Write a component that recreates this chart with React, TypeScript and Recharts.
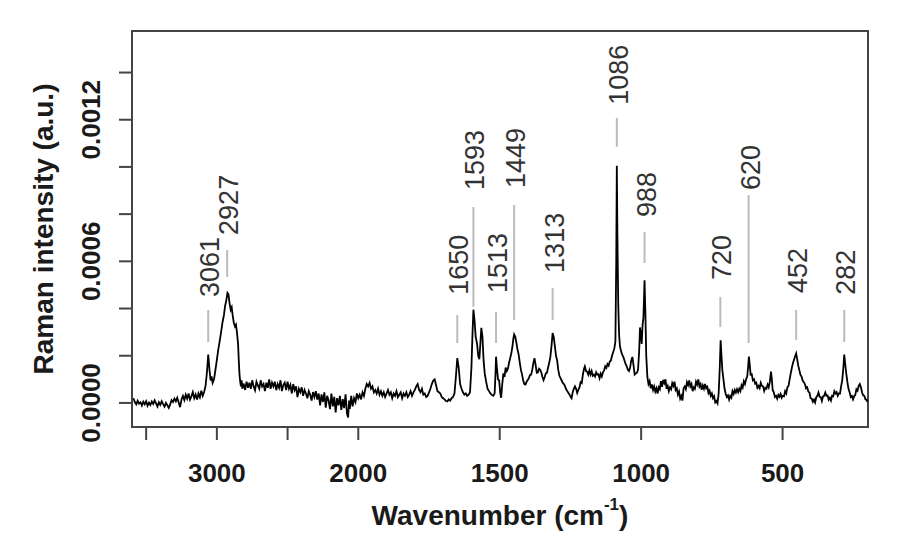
import React from 'react';
import { ComposedChart, Line, Scatter, XAxis, YAxis, ReferenceArea, ReferenceLine } from 'recharts';

// Raman spectrum, C-H stretching region (compressed x scale above 2000 cm-1)
const spectrumHigh: [number, number][] = [
  [3590, 20e-6], [3580, 4e-6], [3570, -6e-6], [3560, 9e-6], [3550, -3e-6], [3540, 3e-6], [3530, -11e-6], [3520, 5e-6],
  [3510, -6e-6], [3500, 7e-6], [3490, -12e-6], [3480, 1e-6], [3470, -9e-6], [3460, 6e-6], [3450, -4e-6], [3440, 11e-6],
  [3430, -2e-6], [3420, -15e-6], [3410, 3e-6], [3400, -8e-6], [3390, 7e-6], [3380, -5e-6], [3370, -16e-6], [3360, 0],
  [3350, -10e-6], [3340, -21e-6], [3330, -6e-6], [3320, 12e-6], [3310, 4e-6], [3300, 18e-6], [3290, 7e-6], [3280, 22e-6],
  [3270, 2e-6], [3260, -18e-6], [3250, 15e-6], [3240, 30e-6], [3230, 12e-6], [3220, 35e-6], [3210, 18e-6], [3200, 40e-6],
  [3190, 14e-6], [3180, 28e-6], [3170, 46e-6], [3160, 20e-6], [3150, 36e-6], [3140, 14e-6], [3130, 40e-6], [3120, 24e-6],
  [3110, 52e-6], [3100, 30e-6], [3090, 46e-6], [3080, 72e-6], [3070, 130e-6], [3061, 205e-6], [3052, 140e-6], [3044, 95e-6],
  [3037, 112e-6], [3030, 85e-6], [3020, 100e-6], [3010, 140e-6], [3000, 182e-6], [2990, 226e-6], [2980, 262e-6], [2970, 300e-6],
  [2960, 342e-6], [2950, 372e-6], [2942, 410e-6], [2934, 432e-6], [2925, 466e-6], [2918, 460e-6], [2910, 422e-6], [2902, 395e-6],
  [2895, 405e-6], [2888, 370e-6], [2880, 340e-6], [2872, 324e-6], [2865, 332e-6], [2858, 300e-6], [2850, 250e-6], [2845, 180e-6],
  [2840, 122e-6], [2835, 90e-6], [2830, 70e-6], [2825, 96e-6], [2820, 60e-6], [2810, 82e-6], [2800, 55e-6], [2790, 90e-6],
  [2780, 64e-6], [2770, 86e-6], [2760, 60e-6], [2750, 96e-6], [2740, 70e-6], [2730, 54e-6], [2720, 90e-6], [2710, 74e-6],
  [2700, 60e-6], [2690, 96e-6], [2680, 70e-6], [2670, 80e-6], [2660, 50e-6], [2650, 86e-6], [2640, 64e-6], [2630, 100e-6],
  [2620, 60e-6], [2610, 86e-6], [2600, 70e-6], [2590, 90e-6], [2580, 54e-6], [2570, 80e-6], [2560, 64e-6], [2550, 96e-6],
  [2540, 50e-6], [2530, 76e-6], [2520, 86e-6], [2510, 54e-6], [2500, 90e-6], [2490, 60e-6], [2480, 76e-6], [2470, 40e-6],
  [2460, 80e-6], [2450, 54e-6], [2440, 70e-6], [2430, 25e-6], [2420, 60e-6], [2410, 45e-6], [2400, 66e-6], [2390, 30e-6],
  [2380, 55e-6], [2370, 40e-6], [2360, 20e-6], [2350, 50e-6], [2340, 35e-6], [2330, 10e-6], [2320, 46e-6], [2310, 25e-6],
  [2300, 50e-6], [2290, 14e-6], [2280, 40e-6], [2270, -10e-6], [2260, 36e-6], [2250, 4e-6], [2240, 45e-6], [2230, -20e-6],
  [2220, 30e-6], [2210, 10e-6], [2200, -26e-6], [2190, 40e-6], [2180, -15e-6], [2170, 26e-6], [2160, -40e-6], [2150, 20e-6],
  [2140, -10e-6], [2130, 30e-6], [2120, -30e-6], [2110, 16e-6], [2100, -22e-6], [2090, 36e-6], [2080, -45e-6], [2072, -62e-6],
  [2065, 10e-6], [2060, -25e-6], [2050, 30e-6], [2040, -15e-6], [2030, 20e-6], [2020, 4e-6], [2010, 40e-6],
];

// Fingerprint region (2000 - 200 cm-1)
const spectrumLow: [number, number][] = [
  [2000, 20e-6], [1995, 35e-6], [1990, 15e-6], [1985, 45e-6], [1980, 30e-6], [1975, 60e-6], [1970, 80e-6], [1965, 70e-6],
  [1960, 85e-6], [1955, 60e-6], [1950, 70e-6], [1945, 45e-6], [1940, 55e-6], [1935, 40e-6], [1930, 60e-6], [1925, 35e-6],
  [1920, 50e-6], [1915, 30e-6], [1910, 45e-6], [1905, 25e-6], [1900, 40e-6], [1895, 55e-6], [1890, 35e-6], [1885, 45e-6],
  [1880, 20e-6], [1875, 40e-6], [1870, 30e-6], [1865, 50e-6], [1860, 25e-6], [1855, 35e-6], [1850, 45e-6], [1845, 20e-6],
  [1840, 40e-6], [1835, 30e-6], [1830, 45e-6], [1825, 25e-6], [1820, 35e-6], [1815, 50e-6], [1810, 30e-6], [1805, 45e-6],
  [1800, 55e-6], [1795, 70e-6], [1790, 80e-6], [1785, 55e-6], [1780, 45e-6], [1775, 60e-6], [1770, 35e-6], [1765, 40e-6],
  [1760, 25e-6], [1755, 30e-6], [1750, 45e-6], [1745, 60e-6], [1740, 80e-6], [1735, 95e-6], [1730, 100e-6], [1725, 75e-6],
  [1720, 50e-6], [1715, 45e-6], [1710, 40e-6], [1705, 25e-6], [1700, 20e-6], [1695, 15e-6], [1690, 8e-6], [1685, 6e-6],
  [1680, 15e-6], [1675, 10e-6], [1670, 20e-6], [1665, 25e-6], [1660, 40e-6], [1655, 110e-6], [1650, 190e-6], [1645, 150e-6],
  [1640, 80e-6], [1635, 60e-6], [1630, 45e-6], [1625, 35e-6], [1620, 40e-6], [1615, 30e-6], [1610, 35e-6], [1605, 45e-6],
  [1600, 150e-6], [1596, 300e-6], [1593, 395e-6], [1589, 350e-6], [1585, 280e-6], [1580, 250e-6], [1576, 200e-6], [1572, 185e-6],
  [1568, 260e-6], [1565, 318e-6], [1561, 280e-6], [1557, 180e-6], [1553, 125e-6], [1548, 90e-6], [1543, 60e-6], [1538, 50e-6],
  [1533, 40e-6], [1528, 34e-6], [1523, 30e-6], [1518, 40e-6], [1515, 120e-6], [1513, 196e-6], [1510, 150e-6], [1506, 100e-6],
  [1502, 95e-6], [1498, 40e-6], [1495, 22e-6], [1491, 80e-6], [1487, 125e-6], [1483, 110e-6], [1479, 150e-6], [1475, 135e-6],
  [1471, 145e-6], [1467, 170e-6], [1463, 190e-6], [1459, 210e-6], [1455, 240e-6], [1452, 270e-6], [1449, 290e-6], [1445, 280e-6],
  [1441, 255e-6], [1437, 225e-6], [1433, 205e-6], [1429, 170e-6], [1425, 140e-6], [1421, 120e-6], [1417, 95e-6], [1413, 80e-6],
  [1409, 78e-6], [1405, 90e-6], [1401, 97e-6], [1397, 105e-6], [1393, 118e-6], [1389, 120e-6], [1385, 140e-6], [1381, 170e-6],
  [1377, 190e-6], [1373, 160e-6], [1369, 128e-6], [1365, 130e-6], [1361, 145e-6], [1357, 140e-6], [1353, 130e-6], [1349, 110e-6],
  [1345, 97e-6], [1341, 110e-6], [1337, 125e-6], [1333, 128e-6], [1329, 150e-6], [1325, 170e-6], [1321, 195e-6], [1317, 240e-6],
  [1313, 296e-6], [1309, 280e-6], [1305, 240e-6], [1301, 200e-6], [1297, 180e-6], [1293, 140e-6], [1289, 115e-6], [1285, 105e-6],
  [1281, 95e-6], [1277, 85e-6], [1273, 80e-6], [1269, 70e-6], [1265, 58e-6], [1261, 50e-6], [1257, 42e-6], [1253, 35e-6],
  [1249, 25e-6], [1246, 20e-6], [1242, 45e-6], [1238, 60e-6], [1234, 70e-6], [1230, 60e-6], [1226, 42e-6], [1222, 55e-6],
  [1218, 66e-6], [1214, 88e-6], [1210, 84e-6], [1206, 120e-6], [1202, 145e-6], [1199, 155e-6], [1195, 135e-6], [1191, 132e-6],
  [1187, 120e-6], [1183, 138e-6], [1179, 120e-6], [1175, 135e-6], [1171, 115e-6], [1167, 120e-6], [1163, 112e-6], [1159, 130e-6],
  [1155, 120e-6], [1151, 122e-6], [1147, 105e-6], [1143, 124e-6], [1139, 112e-6], [1135, 130e-6], [1131, 138e-6], [1127, 155e-6],
  [1123, 148e-6], [1119, 165e-6], [1115, 158e-6], [1111, 175e-6], [1107, 180e-6], [1103, 200e-6], [1099, 215e-6], [1095, 230e-6],
  [1091, 260e-6], [1088, 600e-6], [1086, 1005e-6], [1084, 720e-6], [1081, 420e-6], [1078, 290e-6], [1075, 240e-6], [1071, 220e-6],
  [1067, 205e-6], [1063, 195e-6], [1059, 180e-6], [1055, 165e-6], [1051, 155e-6], [1047, 140e-6], [1043, 135e-6], [1039, 150e-6],
  [1035, 180e-6], [1031, 195e-6], [1027, 160e-6], [1023, 120e-6], [1019, 125e-6], [1015, 128e-6], [1011, 140e-6], [1007, 220e-6],
  [1004, 320e-6], [1001, 290e-6], [998, 250e-6], [995, 330e-6], [992, 360e-6], [988, 520e-6], [985, 380e-6], [982, 200e-6],
  [978, 110e-6], [974, 80e-6], [970, 92e-6], [966, 62e-6], [962, 78e-6], [958, 55e-6], [954, 70e-6], [950, 48e-6],
  [946, 62e-6], [942, 40e-6], [938, 66e-6], [934, 58e-6], [930, 92e-6], [926, 68e-6], [922, 98e-6], [918, 84e-6],
  [914, 100e-6], [910, 60e-6], [906, 72e-6], [902, 50e-6], [898, 66e-6], [894, 58e-6], [890, 84e-6], [886, 72e-6],
  [882, 90e-6], [878, 55e-6], [874, 62e-6], [870, 35e-6], [866, 48e-6], [862, 18e-6], [858, 30e-6], [854, 10e-6],
  [850, 62e-6], [846, 70e-6], [842, 58e-6], [838, 88e-6], [834, 76e-6], [830, 95e-6], [826, 70e-6], [822, 80e-6],
  [818, 50e-6], [814, 66e-6], [810, 60e-6], [806, 90e-6], [802, 78e-6], [798, 100e-6], [794, 70e-6], [790, 80e-6],
  [786, 56e-6], [782, 74e-6], [778, 60e-6], [774, 80e-6], [770, 62e-6], [766, 68e-6], [762, 42e-6], [758, 52e-6],
  [754, 30e-6], [750, 40e-6], [746, 20e-6], [742, 28e-6], [738, 2e-6], [734, 8e-6], [730, -2e-6], [726, 40e-6],
  [722, 150e-6], [719, 265e-6], [716, 200e-6], [713, 140e-6], [709, 100e-6], [705, 60e-6], [701, 38e-6], [697, 25e-6],
  [693, 32e-6], [689, 14e-6], [685, 30e-6], [681, 22e-6], [677, 50e-6], [673, 38e-6], [669, 55e-6], [665, 44e-6],
  [661, 58e-6], [657, 45e-6], [653, 60e-6], [649, 50e-6], [645, 75e-6], [641, 65e-6], [637, 92e-6], [633, 80e-6],
  [629, 100e-6], [625, 112e-6], [622, 150e-6], [619, 196e-6], [616, 160e-6], [613, 120e-6], [609, 122e-6], [605, 96e-6],
  [601, 100e-6], [597, 82e-6], [593, 86e-6], [589, 64e-6], [585, 72e-6], [581, 62e-6], [577, 85e-6], [573, 72e-6],
  [569, 70e-6], [565, 50e-6], [561, 64e-6], [557, 60e-6], [553, 78e-6], [549, 66e-6], [545, 90e-6], [541, 133e-6],
  [538, 100e-6], [535, 55e-6], [531, 45e-6], [527, 25e-6], [523, 30e-6], [519, 18e-6], [515, 34e-6], [511, 26e-6],
  [507, 38e-6], [503, 22e-6], [499, 30e-6], [495, 28e-6], [491, 50e-6], [487, 40e-6], [483, 66e-6], [479, 72e-6],
  [475, 100e-6], [471, 126e-6], [467, 150e-6], [463, 170e-6], [459, 185e-6], [455, 200e-6], [452, 210e-6], [449, 190e-6],
  [445, 160e-6], [441, 140e-6], [437, 120e-6], [433, 112e-6], [429, 95e-6], [425, 88e-6], [421, 80e-6], [417, 62e-6],
  [413, 66e-6], [409, 48e-6], [405, 44e-6], [401, 20e-6], [397, 18e-6], [393, 5e-6], [389, 14e-6], [385, 2e-6],
  [381, 24e-6], [377, 30e-6], [373, 44e-6], [369, 26e-6], [365, 24e-6], [361, 8e-6], [357, 28e-6], [353, 30e-6],
  [349, 44e-6], [345, 30e-6], [341, 32e-6], [337, 14e-6], [333, 22e-6], [329, 10e-6], [325, 30e-6], [321, 28e-6],
  [317, 50e-6], [313, 40e-6], [309, 46e-6], [305, 30e-6], [301, 40e-6], [297, 40e-6], [293, 70e-6], [289, 97e-6],
  [285, 150e-6], [282, 205e-6], [279, 170e-6], [275, 126e-6], [271, 90e-6], [267, 60e-6], [263, 45e-6], [259, 25e-6],
  [255, 30e-6], [251, 15e-6], [247, 28e-6], [243, 34e-6], [239, 58e-6], [235, 52e-6], [231, 72e-6], [227, 80e-6],
  [223, 66e-6], [219, 44e-6], [215, 32e-6], [211, 30e-6], [207, 15e-6], [203, 14e-6], [200, 4e-6],
];

// Peak annotations
const peakLabels = ['3061', '2927', '1650', '1593', '1513', '1449', '1313', '1086', '988', '720', '620', '452', '282'];
const peakWavenumbers = [3061, 2927, 1650, 1593, 1513, 1449, 1313, 1086, 988, 720, 620, 452, 282];
const peakLineLow = [258e-6, 534e-6, 254e-6, 407e-6, 254e-6, 352e-6, 352e-6, 1085e-6, 593e-6, 322e-6, 254e-6, 267e-6, 258e-6];
const peakLineHigh = [394e-6, 648e-6, 373e-6, 830e-6, 386e-6, 839e-6, 487e-6, 1208e-6, 725e-6, 449e-6, 881e-6, 394e-6, 394e-6];
const peakTextBase = [449e-6, 712e-6, 458e-6, 902e-6, 466e-6, 911e-6, 551e-6, 1263e-6, 788e-6, 521e-6, 902e-6, 466e-6, 458e-6];

// Axes
const xTickWavenumbers = [3500, 3000, 2500, 2000, 1500, 1000, 500];
const xTickLabels = ['', '3000', '', '2000', '1500', '1000', '500'];
const yTicks = [0, 0.0002, 0.0004, 0.0006, 0.0008, 0.001, 0.0012, 0.0014];
const yTickLabels = ['0.0000', '', '', '0.0006', '', '', '0.0012', ''];
const xDomainWavenumber = [3600, 198];
const yDomain: [number, number] = [-0.000102, 0.001576];

// Axis break: above 2000 cm-1 the scale is compressed by a factor of 2
const toAxis = (w: number) => (w <= 2000 ? w : 2000 + (w - 2000) / 2);

const FONT = 'Liberation Sans, Arial, Helvetica, sans-serif';
const AXIS_COLOR = '#444';

const lineData = [...spectrumHigh, ...spectrumLow].map(([w, v]) => ({ t: toAxis(w), v }));
const labelData = peakWavenumbers.map((w, i) => ({ t: toAxis(w), y: peakTextBase[i], label: peakLabels[i] }));
const xTicks = xTickWavenumbers.map(toAxis);

const XTick = (props: any) => {
  const { x, payload } = props;
  const idx = xTicks.indexOf(payload.value);
  const txt = idx >= 0 ? xTickLabels[idx] : '';
  return (
    <text x={x} y={473} textAnchor="middle" dominantBaseline="central" fontFamily={FONT} fontWeight="bold" fontSize={26} fill="#1a1a1a">
      {txt}
    </text>
  );
};

const YTick = (props: any) => {
  const { y, payload } = props;
  const idx = yTicks.findIndex((v) => Math.abs(v - payload.value) < 1e-9);
  const txt = idx >= 0 ? yTickLabels[idx] : '';
  const x = 91;
  return (
    <text x={x} y={y} transform={`rotate(-90 ${x} ${y})`} textAnchor="middle" dominantBaseline="central" fontFamily={FONT} fontWeight="bold" fontSize={26} fill="#1a1a1a">
      {txt}
    </text>
  );
};

const PeakLabel = (props: any) => {
  const { cx, cy, payload } = props;
  const x = cx + 2;
  return (
    <text x={x} y={cy} transform={`rotate(-90 ${x} ${cy})`} textAnchor="start" dominantBaseline="central" fontFamily={FONT} fontSize={27} fill="#333">
      {payload.label}
    </text>
  );
};

const XTitle = () => (
  <text x={500} y={515} textAnchor="middle" dominantBaseline="central" fontFamily={FONT} fontWeight="bold" fontSize={28} fill="#1a1a1a">
    Wavenumber (cm
    <tspan fontSize={17} dy={-11}>-1</tspan>
    <tspan dy={11}>)</tspan>
  </text>
);

const YTitle = () => (
  <text x={43} y={229} transform="rotate(-90 43 229)" textAnchor="middle" dominantBaseline="central" fontFamily={FONT} fontWeight="bold" fontSize={28} fill="#1a1a1a">
    Raman intensity (a.u.)
  </text>
);

export default function App() {
  const xDomain = [toAxis(xDomainWavenumber[1]), toAxis(xDomainWavenumber[0])];
  return (
    <div style={{ position: 'absolute', left: 0, top: 0, background: '#fff' }}>
      <ComposedChart width={898} height={537} data={lineData} margin={{ top: 31, right: 30, bottom: 0, left: 0 }}>
        <XAxis
          type="number"
          dataKey="t"
          domain={xDomain}
          reversed
          allowDataOverflow
          ticks={xTicks}
          interval={0}
          height={110}
          tickSize={13}
          axisLine={false}
          tickLine={{ stroke: AXIS_COLOR, strokeWidth: 2 }}
          tick={<XTick />}
          label={<XTitle />}
        />
        <YAxis
          type="number"
          domain={yDomain}
          allowDataOverflow
          ticks={yTicks}
          interval={0}
          width={132}
          tickSize={13}
          axisLine={false}
          tickLine={{ stroke: AXIS_COLOR, strokeWidth: 2 }}
          tick={<YTick />}
          label={<YTitle />}
        />
        {peakWavenumbers.map((w, i) => (
          <ReferenceLine
            key={w}
            segment={[{ x: toAxis(w), y: peakLineLow[i] }, { x: toAxis(w), y: peakLineHigh[i] }]}
            stroke="#bbb"
            strokeWidth={2}
            ifOverflow="visible"
          />
        ))}
        <Line type="linear" dataKey="v" stroke="#000" strokeWidth={1.8} dot={false} activeDot={false} isAnimationActive={false} />
        <Scatter data={labelData} dataKey="y" shape={<PeakLabel />} isAnimationActive={false} />
        <ReferenceArea x1={xDomain[0]} x2={xDomain[1]} y1={yDomain[0]} y2={yDomain[1]} fill="none" stroke={AXIS_COLOR} strokeWidth={2} ifOverflow="visible" />
      </ComposedChart>
    </div>
  );
}
